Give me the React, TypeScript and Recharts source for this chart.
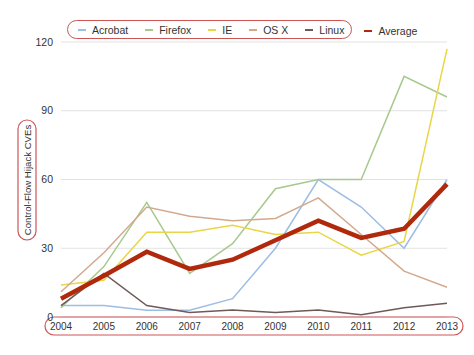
import React from 'react';
import { LineChart, Line, XAxis, YAxis, CartesianGrid, Legend } from 'recharts';

const years = ['2004', '2005', '2006', '2007', '2008', '2009', '2010', '2011', '2012', '2013'];
const acrobat = [5, 5, 3, 3, 8, 30, 60, 48, 30, 60];
const firefox = [4, 22, 50, 19, 32, 56, 60, 60, 105, 96];
const ie = [14, 16, 37, 37, 40, 36, 37, 27, 33, 117];
const osx = [11, 28, 48, 44, 42, 43, 52, 36, 20, 13];
const linux = [5, 19, 5, 2, 3, 2, 3, 1, 4, 6];
const average = [8, 18, 28.5, 21, 25, 33.5, 42, 34.5, 38.5, 58];
const seriesNames = ['Acrobat', 'Firefox', 'IE', 'OS X', 'Linux', 'Average'];
const yTicks = [0, 30, 60, 90, 120];
const yLabel = 'Control-Flow Hijack CVEs';

const data = years.map((y, i) => ({
  year: y,
  Acrobat: acrobat[i],
  Firefox: firefox[i],
  IE: ie[i],
  'OS X': osx[i],
  Linux: linux[i],
  Average: average[i],
}));

const FONT = '"Liberation Sans", Arial, Helvetica, sans-serif';
const RING = '#cf5555';

const LegendItem = ({ color, name }: { color: string; name: string }) => (
  <span style={{ display: 'inline-flex', alignItems: 'center', whiteSpace: 'nowrap' }}>
    <span style={{ display: 'inline-block', width: 8, height: 2, background: color, marginRight: 6 }} />
    {name}
  </span>
);

const renderLegend = (props: any) => {
  const payload = [...(props.payload || [])].sort(
    (a: any, b: any) => seriesNames.indexOf(a.value) - seriesNames.indexOf(b.value)
  );
  const boxed = payload.filter((p: any) => p.value !== 'Average');
  const avg = payload.filter((p: any) => p.value === 'Average');
  return (
    <div style={{ display: 'flex', alignItems: 'center', fontFamily: FONT, fontSize: 10.5, color: '#333' }}>
      <div
        style={{
          display: 'flex',
          alignItems: 'center',
          gap: 17,
          border: `1.2px solid ${RING}`,
          borderRadius: 10,
          height: 17,
          padding: '0 7px 0 10px',
        }}
      >
        {boxed.map((p: any) => (
          <LegendItem key={p.value} color={p.color} name={p.value} />
        ))}
      </div>
      <div style={{ marginLeft: 12 }}>
        {avg.map((p: any) => (
          <LegendItem key={p.value} color={p.color} name={p.value} />
        ))}
      </div>
    </div>
  );
};

const YLabel = (props: any) => {
  const vb = props.viewBox || {};
  const cx = vb.x + 27;
  const cy = vb.y + vb.height / 2 + 0.5;
  return (
    <g>
      <rect x={cx - 9} y={cy - 60} width={18} height={120} rx={9} ry={9} fill="none" stroke={RING} strokeWidth={1.2} />
      <text
        x={cx}
        y={cy}
        transform={`rotate(-90 ${cx} ${cy})`}
        textAnchor="middle"
        dominantBaseline="central"
        fontFamily={FONT}
        fontSize={9.6}
        fill="#333"
      >
        {yLabel}
      </text>
    </g>
  );
};

const XRing = (props: any) => {
  const vb = props.viewBox || {};
  return (
    <rect
      x={vb.x - 16}
      y={vb.y}
      width={vb.width + 32}
      height={18}
      rx={9}
      ry={9}
      fill="none"
      stroke={RING}
      strokeWidth={1.2}
    />
  );
};

export default function App() {
  return (
    <div style={{ position: 'absolute', left: 0, top: 0, width: 474, height: 355, background: '#fff' }}>
      <LineChart width={474} height={355} data={data} margin={{ top: 42, right: 27, left: 0, bottom: 0 }}>
        <CartesianGrid vertical={false} stroke="#e2e2e2" strokeWidth={1.2} />
        <XAxis
          dataKey="year"
          height={38}
          axisLine={false}
          tickLine={false}
          tickSize={6}
          tickMargin={0}
          tick={{ fontFamily: FONT, fontSize: 10, fill: '#333' }}
          interval={0}
          label={<XRing />}
        />
        <YAxis
          width={61}
          domain={[0, 120]}
          ticks={yTicks}
          axisLine={false}
          tickLine={false}
          tickSize={6}
          tickMargin={2}
          tick={{ fontFamily: FONT, fontSize: 10.5, fill: '#333' }}
          label={<YLabel />}
        />
        <Legend
          layout="horizontal"
          verticalAlign="middle"
          align="center"
          wrapperStyle={{ top: 20, left: 67, width: 'auto' }}
          content={renderLegend}
        />
        <Line type="linear" dataKey="Acrobat" stroke="#9dbde3" strokeWidth={1.5} dot={false} isAnimationActive={false} />
        <Line type="linear" dataKey="Firefox" stroke="#a8c98c" strokeWidth={1.5} dot={false} isAnimationActive={false} />
        <Line type="linear" dataKey="IE" stroke="#e8d646" strokeWidth={1.5} dot={false} isAnimationActive={false} />
        <Line type="linear" dataKey="OS X" stroke="#d3a98d" strokeWidth={1.5} dot={false} isAnimationActive={false} />
        <Line type="linear" dataKey="Linux" stroke="#6e5a5a" strokeWidth={1.5} dot={false} isAnimationActive={false} />
        <Line type="linear" dataKey="Average" stroke="#b0290c" strokeWidth={4.5} dot={false} isAnimationActive={false} />
      </LineChart>
    </div>
  );
}
